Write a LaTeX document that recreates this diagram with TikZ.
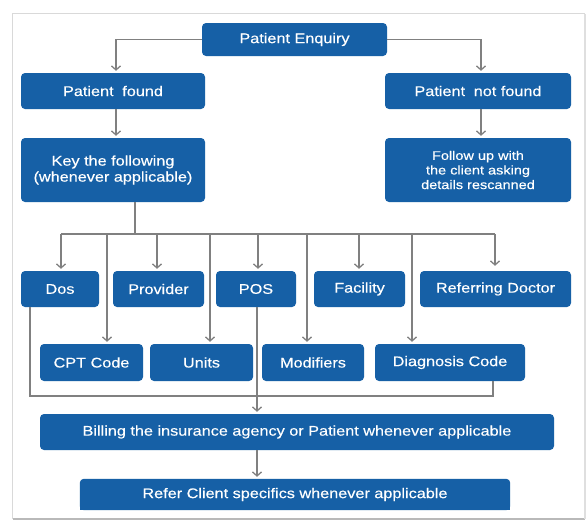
\documentclass[tikz,border=0pt]{standalone}
\usepackage{fontspec}
\setmainfont[FakeStretch=1.16,FakeBold=0.3]{Liberation Sans}
\usetikzlibrary{arrows.meta,backgrounds}
\definecolor{boxblue}{RGB}{22,96,166}
\definecolor{linegray}{RGB}{128,128,128}
\begin{document}
\begin{tikzpicture}[x=1pt,y=-1pt,
  box/.style={fill=boxblue, text=white, rounded corners=4pt, inner sep=0pt, align=center,
    font=\fontsize{14}{16}\selectfont},
  smalltext/.style={font=\fontsize{12.5}{14.6}\selectfont},
  conn/.style={draw=linegray, line width=1.3pt},
  arr/.style={conn, -{Straight Barb[length=4pt,width=9pt]}, shorten >=2pt}]
\begin{scope}[on background layer]
\fill[white] (0,0) rectangle (586,522);
% frame
\draw[gray!30, line width=1pt] (12,13) rectangle (584,518);
\draw[gray!55, line width=2pt] (13,519) -- (585,519);
\draw[gray!25, line width=1.5pt] (585,14) -- (585,519);
\end{scope}
\useasboundingbox (0,0) rectangle (586,522);

% nodes
\node[box, minimum width=185pt, minimum height=33pt] (enq) at (294.5,39.5) {Patient Enquiry};
\node[box, minimum width=184pt, minimum height=36pt] (pf) at (113,91) {Patient\hspace{0.3em} found};
\node[box, minimum width=186pt, minimum height=36pt] (pnf) at (478,91) {Patient\hspace{0.3em} not found};
\node[box, minimum width=184pt, minimum height=64pt] (key) at (113,170) {Key the following\\(whenever applicable)};
\node[box, smalltext, minimum width=186pt, minimum height=64pt] (fol) at (478,170) {Follow up with\\the client asking\\details rescanned};

\node[box, minimum width=78pt, minimum height=36pt] (dos) at (60,289) {Dos};
\node[box, minimum width=91pt, minimum height=36pt] (prov) at (158.5,289) {Provider};
\node[box, minimum width=80pt, minimum height=36pt] (pos) at (256,289) {POS};
\node[box, minimum width=91pt, minimum height=36pt] (fac) at (359.5,289) {Facility};
\node[box, minimum width=151pt, minimum height=36pt] (ref) at (495.5,289) {Referring Doctor};

\node[box, minimum width=103pt, minimum height=37pt] (cpt) at (91.5,362.5) {CPT Code};
\node[box, minimum width=103pt, minimum height=37pt] (units) at (201.5,362.5) {Units};
\node[box, minimum width=102pt, minimum height=37pt] (mod) at (313,362.5) {Modifiers};
\node[box, minimum width=150pt, minimum height=37pt] (diag) at (450,362.5) {Diagnosis Code};

\node[box, minimum width=514pt, minimum height=36pt] (bill) at (297,432) {Billing the insurance agency or Patient whenever applicable};
\node[text=white, inner sep=0pt, font=\fontsize{14}{16}\selectfont, minimum width=430pt, minimum height=31pt] (refer) at (295,494.5) {Refer Client specifics whenever applicable};
\begin{scope}[on background layer]
\fill[boxblue, rounded corners=4pt] (refer.south west) rectangle (refer.north east);
\fill[boxblue] (refer.south west) rectangle (refer.east);
\end{scope}

% top connectors
\draw[arr] (enq.west) -| ([xshift=3pt]pf.north);
\draw[arr] (enq.east) -| ([xshift=3pt]pnf.north);
\draw[arr] ([xshift=3pt]pf.south) -- ([xshift=3pt]key.north);
\draw[arr] ([xshift=3pt]pnf.south) -- ([xshift=3pt]fol.north);

% bus
\coordinate (bL) at (61,234);
\coordinate (bR) at (495,234);
\draw[conn] ([xshift=22pt]key.south) -- ([xshift=22pt]key.south |- bL);
\draw[conn] (bL) -- (bR);
\coordinate (d1) at (61,234);
\coordinate (d2) at (107,234);
\coordinate (d3) at (157,234);
\coordinate (d4) at (210,234);
\coordinate (d5) at (258,234);
\coordinate (d6) at (307,234);
\coordinate (d7) at (359,234);
\coordinate (d8) at (412,234);
\coordinate (d9) at (495,234);
\draw[arr] (d1) -- (d1 |- dos.north);
\draw[arr] (d2) -- (d2 |- cpt.north);
\draw[arr] (d3) -- (d3 |- prov.north);
\draw[arr] (d4) -- (d4 |- units.north);
\draw[arr] (d5) -- (d5 |- pos.north);
\draw[arr] (d6) -- (d6 |- mod.north);
\draw[arr] (d7) -- (d7 |- fac.north);
\draw[arr] (d8) -- (d8 |- diag.north);
\draw[arr, shorten >=5pt] (d9) -- (d9 |- ref.north);

% collector
\coordinate (cL) at (30,396);
\coordinate (cR) at (493,396);
\draw[conn] (cL |- dos.south) -- (cL) -- (cR) -- (cR |- diag.south);

% POS to billing, billing to refer
\coordinate (pv) at (257,0);
\draw[arr] (pv |- pos.south) -- (pv |- bill.north);
\draw[arr] (pv |- bill.south) -- (pv |- refer.north);
\end{tikzpicture}
\end{document}
